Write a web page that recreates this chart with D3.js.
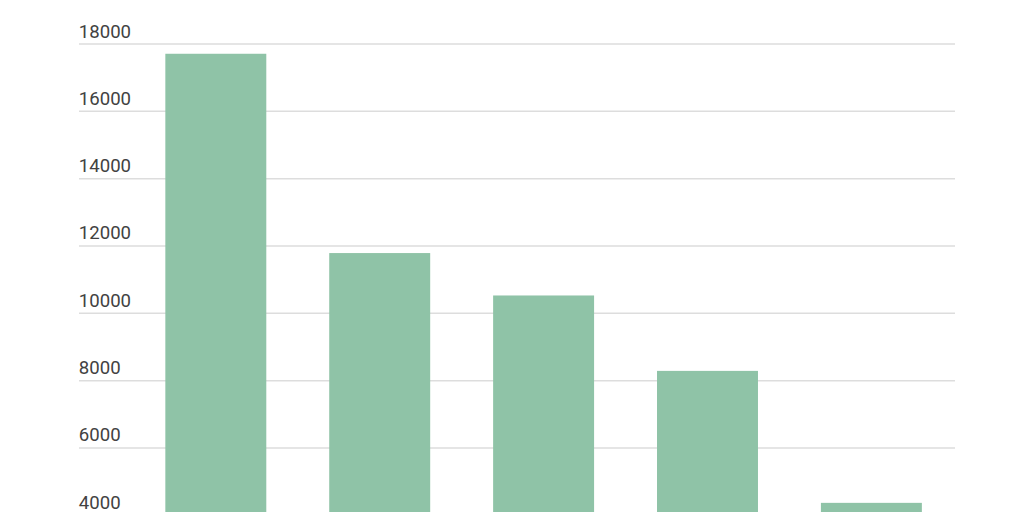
<!DOCTYPE html>
<html>
<head>
<meta charset="utf-8">
<script src="https://cdn.jsdelivr.net/npm/d3@7"></script>
<style>
  body { margin: 0; background: #fff; }
  svg { display: block; }
  .grid line { stroke: #dddddd; stroke-width: 1.5; }
  .lbl { font-family: Roboto, "Noto Sans", sans-serif; font-size: 18.6px; fill: #424242; }
</style>
</head>
<body>
<svg id="chart"></svg>
<script>
// data
var categories = ["A", "B", "C", "D", "E"];
var values = [17710, 11790, 10530, 8290, 4370];
var tickValues = [0, 2000, 4000, 6000, 8000, 10000, 12000, 14000, 16000, 18000];

var W = 1024, H = 512;

var svg = d3.select("#chart")
    .attr("width", W)
    .attr("height", H);

// y axis runs past the bottom of the picture (chart is cropped there)
var y = d3.scaleLinear()
    .domain([0, 18000])
    .range([44 + 9 * 67.33, 44]);

var x = d3.scaleBand()
    .domain(categories)
    .range([102.4, 984.8])
    .padding(0.384);

var gridLeft = 79, gridRight = 955;

/* grid lines */
svg.append("g")
    .attr("class", "grid")
    .selectAll("line")
    .data(tickValues)
    .enter()
    .append("line")
    .attr("x1", gridLeft)
    .attr("x2", gridRight)
    .attr("y1", function(d) { return y(d); })
    .attr("y2", function(d) { return y(d); });

/* bars */
svg.selectAll("rect")
    .data(values)
    .enter()
    .append("rect")
    .attr("x", function(d, i) { return x(categories[i]); })
    .attr("y", function(d) { return y(d); })
    .attr("width", x.bandwidth())
    .attr("height", function(d) { return y(0) - y(d); })
    .attr("fill", "#8fc3a7");

/* tick labels sit above their grid line */
svg.selectAll(".lbl")
    .data(tickValues)
    .enter()
    .append("text")
    .attr("class", "lbl")
    .attr("x", 78.8)
    .attr("y", function(d) { return y(d) - 6.5; })
    .text(function(d) { return d; });
</script>
</body>
</html>
